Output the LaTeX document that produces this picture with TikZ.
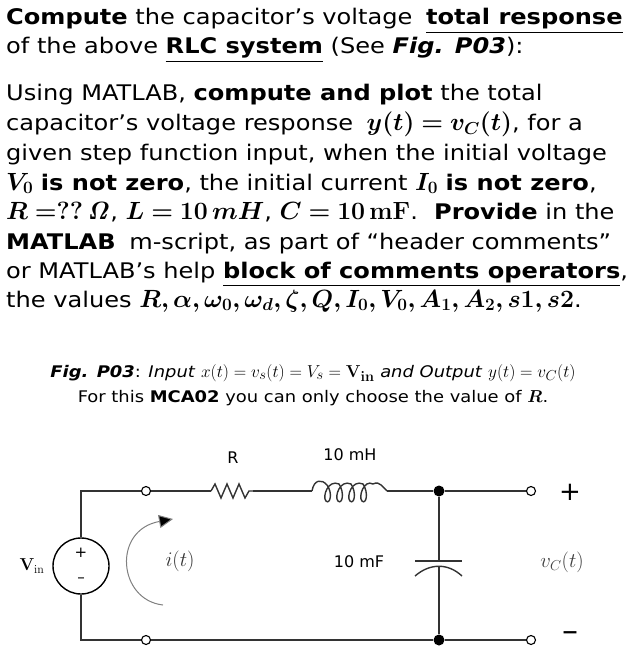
\documentclass[tikz,border=0pt]{standalone}
\usepackage{amsmath,bm}
\usepackage[no-math]{fontspec}
\setmainfont[FakeStretch=1.12]{DejaVu Sans}
\newfontfamily\plainsans{DejaVu Sans}
\usetikzlibrary{arrows.meta}
\newcommand{\bx}[1]{\textbf{#1}}
\newcommand{\ul}[1]{\underline{\textbf{#1}}}
\newcommand{\mb}[1]{{\fontsize{24}{25}\selectfont$\bm{#1}$}}
\newcommand{\mbs}[1]{{\fontsize{23}{25}\selectfont$\bm{#1}$}}
\newcommand{\capm}[1]{{\fontsize{19}{20}\selectfont$#1$}}
\begin{document}
\begin{tikzpicture}[x=1pt,y=-1pt,
  line/.style={anchor=base west,inner sep=0pt,font=\fontsize{21.5}{25}\selectfont},
  capline/.style={anchor=base,inner sep=0pt,font=\fontsize{16}{19}\selectfont},
  wire/.style={line width=1.4pt,black!80},
  term/.style={circle,draw,line width=1.1pt,fill=white,inner sep=0pt,minimum size=9pt},
  dot/.style={circle,fill=black,inner sep=0pt,minimum size=11pt},
  lab/.style={inner sep=0pt,font=\plainsans\fontsize{16}{19}\selectfont}]
\useasboundingbox (0,0) rectangle (627,652);
\node[line] (l1) at (6,25) {\bx{Compute} the capacitor's voltage\; \ul{total response}};
\node[line] (l2) at (6,54) {of the above \ul{RLC system} (See \textbf{\textit{Fig. P03}}):};
\node[line] (l3) at (6,101) {Using MATLAB, \bx{compute and plot} the total};
\node[line] (l4) at (6,131) {capacitor's voltage response\; \mb{y(t)=v_C(t)}, for a};
\node[line] (l5) at (6,161) {given step function input, when the initial voltage};
\node[line] (l6) at (6,190) {\mb{V_0} \bx{is not zero}, the initial current \mb{I_0} \bx{is not zero},};
\node[line] (l7) at (6,219) {\mbs{R=??\,\mathit{\Omega}}, \mbs{L=10\,mH}, \mbs{C=10\,\mathrm{mF}}.\; \bx{Provide} in the};
\node[line] (l8) at (6,249) {\bx{MATLAB}\; m-script, as part of ``header comments''};
\node[line] (l9) at (6,278) {or MATLAB's help \ul{block of comments operators},};
\node[line] (l10) at (6,307) {the values \mb{R,\alpha,\omega_0,\omega_d,\zeta,Q,I_0,V_0,A_1,A_2,s1,s2}.};
\node[capline] (c1) at (313,377) {\textbf{\textit{Fig. P03}}: \textit{Input} \capm{x(t)=v_s(t)=V_s=\mathbf{V_{in}}} \textit{and Output} \capm{y(t)=v_C(t)}};
\node[capline] (c2) at (313,402) {For this \textbf{MCA02} you can only choose the value of {\fontsize{19}{19}\selectfont$\bm{R}$}.};
% circuit
\node[circle,draw,line width=1.4pt,minimum size=56pt,inner sep=0pt] (src) at (81,566) {};
\node[font=\plainsans\fontsize{15}{15}\selectfont] (sp) at (81,553) {+};
\node[font=\plainsans\fontsize{15}{15}\selectfont] (sm) at (81,580) {\textendash};
\node[term] (t1) at (146,491) {};
\node[term] (t2) at (146,640) {};
\node[dot] (n1) at (439,491) {};
\node[dot] (n2) at (439,640) {};
\node[term] (t3) at (531,491) {};
\node[term] (t4) at (531,640) {};
\coordinate (r1) at (211,491); \coordinate (r2) at (253,491);
\coordinate (i1) at (312,491); \coordinate (i2) at (387,491);
\coordinate (ca) at (439,561); \coordinate (cb) at (439,567);
\draw[wire] (src.north) |- (t1) -- (r1);
\draw[wire] (src.south) |- (t2) -- (n2) -- (t4);
\draw[wire] (r1) -- ++(4,-7) -- ++(6,14) -- ++(6,-14) -- ++(6,14) -- ++(6,-14) -- ++(6,14) -- ++(4,-7) -- (r2);
\draw[wire] (r2) -- (i1);
\draw[wire] (i1) .. controls (314,479) and (322,479) .. (327,485)
  .. controls (333,493) and (330,505) .. (326,501) .. controls (322,497) and (328,479) .. (339,484)
  .. controls (345,493) and (342,505) .. (338,501) .. controls (334,497) and (340,479) .. (351,484)
  .. controls (357,493) and (354,505) .. (350,501) .. controls (346,497) and (352,479) .. (363,484)
  .. controls (369,493) and (366,505) .. (362,501) .. controls (358,497) and (364,479) .. (373,484)
  .. controls (380,480) and (384,489) .. (i2);
\draw[wire] (i2) -- (n1) -- (t3);
\draw[wire] (n1) -- (ca);
\draw[wire] (415,561) -- (462,561);
\draw[wire] (415,576) .. controls (430,563) and (448,563) .. (462,576);
\draw[wire] (cb) -- (n2);
\node[lab] (lr) at (233,458) {R};
\node[lab] (ll) at (350,455) {10 mH};
\node[lab] (lc) at (359,562) {10 mF};
\node[font=\plainsans\fontsize{26}{26}\selectfont] (plus) at (570,492) {+};
\node[font=\plainsans\fontsize{32}{32}\selectfont] (minus) at (570,637) {\textendash};
\node[font=\fontsize{21}{21}\selectfont,black!75] (vc) at (562,562) {$v_C(t)$};
\node[font=\fontsize{21}{21}\selectfont,black!80] (it) at (180,561) {$i(t)$};
\node[font=\fontsize{18}{18}\selectfont] (vin) at (32,566) {$\mathbf{V}_{\mathrm{in}}$};
\coordinate (a1) at (163,605); \coordinate (a2) at (173,519);
\draw[gray,line width=1pt,-{Triangle[length=14pt,width=13pt,fill=black]}] (a1) .. controls (118,600) and (112,530) .. (a2);
\end{tikzpicture}
\end{document}
